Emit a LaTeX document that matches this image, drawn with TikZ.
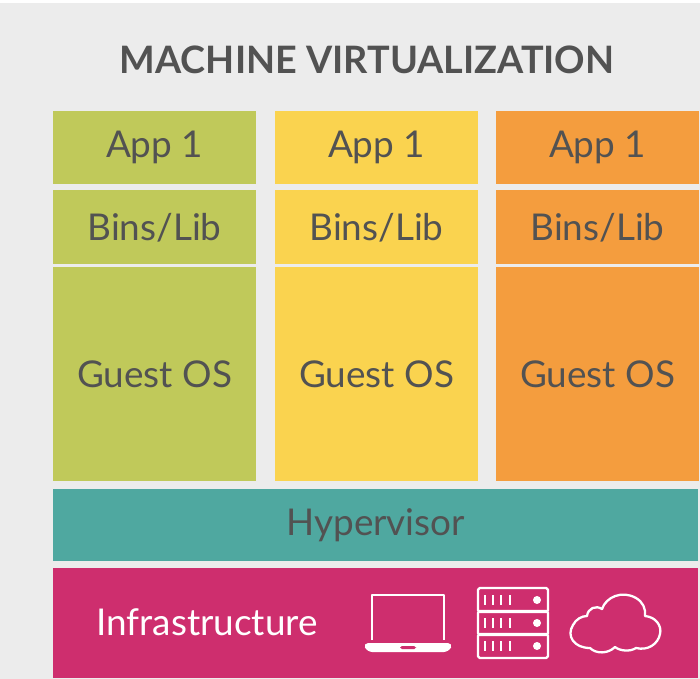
\documentclass[tikz,border=0pt]{standalone}
\usepackage{xcolor}
\usepackage{fontspec}
\setmainfont{Lato}
\definecolor{vmgray}{RGB}{236, 236, 236}
\definecolor{vmtext}{RGB}{82, 82, 82}
\definecolor{vmgreen}{RGB}{192, 201, 90}
\definecolor{vmyellow}{RGB}{250, 211, 79}
\definecolor{vmorange}{RGB}{244, 157, 62}
\definecolor{vmteal}{RGB}{79, 168, 160}
\definecolor{vmpink}{RGB}{206, 46, 110}
\tikzset{
    px/.style={x=0.02cm, y=-0.02cm},
    layerbox/.style={rectangle, anchor=north west, font=\fontsize{21}{24}\selectfont, text=vmtext, inner sep=0pt, align=center},
    iconline/.style={draw=white, line width=1.3pt, line join=round}
}
\begin{document}
\begin{tikzpicture}[px]
    \useasboundingbox (0, 0) rectangle (700, 679);
    % Background
    \fill[vmgray] (0, 3) rectangle (700, 679);

    % Title
    \node[font=\fontsize{21.5}{24}\selectfont\bfseries, text=vmtext] (title) at (367, 60) {MACHINE VIRTUALIZATION};

    % Columns
    \foreach \name/\xpos/\col in {a/53/vmgreen, b/275/vmyellow, c/496/vmorange} {
        \node[layerbox, fill=\col, minimum width=4.05cm, minimum height=1.46cm] (app\name) at (\xpos, 111) {App 1};
        \node[layerbox, fill=\col, minimum width=4.05cm, minimum height=1.48cm] (bins\name) at (\xpos, 190) {Bins/Lib};
        \node[layerbox, fill=\col, minimum width=4.05cm, minimum height=4.28cm] (guest\name) at (\xpos, 267) {Guest OS};
    }

    % Bottom layers
    \node[layerbox, fill=vmteal, minimum width=12.9cm, minimum height=1.44cm] (hyper) at (53, 489) {Hypervisor};
    \fill[vmpink] (53, 568) rectangle (698, 678);
    \node[font=\fontsize{21}{24}\selectfont, text=white] (infra) at (207, 622) {Infrastructure};

    % Laptop
    \draw[iconline] (372, 640) -- (372, 595) -- (444, 595) -- (444, 640);
    \fill[white, rounded corners=3pt] (363, 643) -- (453, 643) -- (449, 652) -- (367, 652) -- cycle;
    \fill[vmpink, rounded corners=1pt] (400, 646) rectangle (416, 649);

    % Server
    \foreach \ytop in {588, 611, 634} {
        \draw[iconline, rounded corners=1pt] (478, \ytop) rectangle (548, \ytop + 24);
        \fill[white] (537, \ytop + 12) circle (4);
        \foreach \xbar in {485, 493, 501, 510}
            \draw[white, line width=1pt] (\xbar, \ytop + 7) -- (\xbar, \ytop + 17);
    }

    % Cloud
    \draw[iconline] (590, 648) .. controls (574, 648) and (566, 636) .. (573, 625)
        .. controls (576, 619) and (582, 616) .. (587, 616)
        .. controls (588, 608) and (596, 605) .. (602, 609)
        .. controls (606, 597) and (622, 590) .. (636, 598)
        .. controls (643, 602) and (646, 609) .. (645, 616)
        .. controls (656, 617) and (662, 626) .. (660, 634)
        .. controls (658, 644) and (648, 651) .. (636, 648)
        .. controls (630, 652) and (620, 651) .. (615, 647)
        .. controls (608, 654) and (596, 654) .. (590, 648) -- cycle;
\end{tikzpicture}
\end{document}
